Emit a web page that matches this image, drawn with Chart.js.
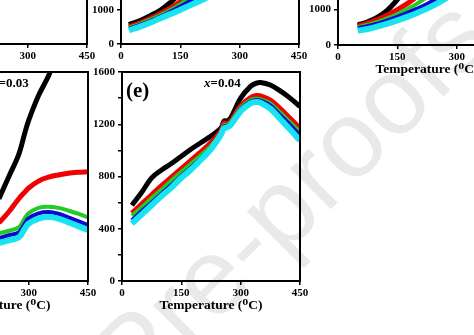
<!DOCTYPE html>
<html>
<head>
<meta charset="utf-8">
<script src="https://cdn.jsdelivr.net/npm/chart.js"></script>
<style>
  html, body { margin: 0; padding: 0; background: #fff; }
  body { width: 474px; height: 335px; position: relative; overflow: hidden; }
  canvas { position: absolute; }
  #wm { left: 0; top: 0; pointer-events: none; }
</style>
</head>
<body>
<canvas id="panel-a" width="240" height="234" style="left:-141px; top:-170px"></canvas>
<canvas id="panel-b" width="240" height="234" style="left:71px; top:-170px"></canvas>
<canvas id="panel-c" width="240" height="261" style="left:288px; top:-179px"></canvas>
<canvas id="panel-d" width="240" height="256" style="left:-140px; top:62px"></canvas>
<canvas id="panel-e" width="240" height="256" style="left:72px; top:62px"></canvas>
<canvas id="wm" width="474" height="335"></canvas>
<script>
// series order: black, red, green, blue, cyan
var seriesNames = ['S1', 'S2', 'S3', 'S4', 'S5'];
var seriesColors = ['#000000', '#f00000', '#22cc22', '#0a0ad0', '#19e3f0'];
var seriesWidths = [5, 5, 4, 4, 6];
var xTicks = [0, 150, 300, 450];

// (b)
var tempB = [20, 50, 75, 100, 125, 150, 175, 200, 225];
var bBlack = [570, 700, 840, 1000, 1220, 1480];
var bRed = [510, 630, 760, 900, 1060, 1240, 1440];
var bGreen = [480, 600, 720, 850, 1000, 1170, 1360];
var bBlue = [450, 570, 680, 810, 950, 1100, 1270, 1450];
var bCyan = [400, 520, 630, 760, 880, 1010, 1140, 1270, 1420];

// (c)
var tempC = [50, 75, 100, 125, 150, 175, 200, 225, 250, 275];
var cBlack = [560, 650, 780, 980, 1270, 1600];
var cRed = [530, 610, 710, 840, 990, 1160, 1360];
var cGreen = [500, 570, 650, 750, 870, 1010, 1160, 1340];
var cBlue = [470, 530, 600, 690, 790, 900, 1020, 1150, 1300];
var cCyan = [400, 450, 520, 600, 690, 790, 900, 1020, 1160, 1320];

// (d) x=0.03
var tempD = [225, 250, 275, 290, 300, 325, 350, 375, 400, 425, 450];
var dBlack = [630, 800, 970, 1130, 1230, 1420, 1570, 1760, 1950, 2130, 2300];
var dRed = [445, 530, 630, 680, 712, 765, 795, 812, 825, 832, 836];
var dGreen = [365, 385, 410, 480, 520, 560, 568, 560, 540, 515, 488];
var dBlue = [328, 350, 372, 440, 480, 518, 528, 515, 488, 458, 428];
var dCyan = [290, 312, 334, 400, 440, 478, 490, 478, 450, 420, 390];

// (e) x=0.04
var tempE = [25, 50, 75, 100, 125, 150, 175, 200, 225, 250, 258, 265, 275, 300, 325, 340, 350, 375, 400, 425, 450];
var eBlack = [580, 680, 790, 850, 900, 955, 1010, 1060, 1110, 1170, 1225, 1225, 1250, 1400, 1490, 1515, 1520, 1500, 1455, 1400, 1335];
var eRed = [520, 590, 660, 730, 795, 860, 925, 990, 1060, 1150, 1210, 1205, 1225, 1340, 1405, 1420, 1418, 1385, 1320, 1245, 1170];
var eGreen = [500, 565, 635, 700, 770, 835, 900, 965, 1035, 1135, 1195, 1195, 1215, 1325, 1385, 1395, 1392, 1360, 1290, 1215, 1140];
var eBlue = [465, 535, 600, 670, 735, 805, 870, 940, 1015, 1125, 1185, 1185, 1205, 1315, 1375, 1385, 1382, 1345, 1270, 1195, 1115];
var eCyan = [440, 510, 580, 650, 715, 790, 855, 930, 1010, 1120, 1170, 1175, 1195, 1300, 1360, 1370, 1365, 1320, 1240, 1160, 1075];

var serif = '"Liberation Serif", "Times New Roman", serif';
var tickFont = { family: serif, size: 11, weight: 'bold' };
var titleFont = { family: serif, size: 13.5, weight: 'bold' };

// box round the plot area
var framePlugin = {
    id: 'frame',
    afterDraw: function (chart) {
        var a = chart.chartArea;
        var ctx = chart.ctx;
        ctx.save();
        ctx.strokeStyle = '#000';
        ctx.lineWidth = 2;
        ctx.strokeRect(a.left, a.top, a.right - a.left, a.bottom - a.top);
        ctx.restore();
    }
};

// panel letter and composition text, placed from the plot area corner
var panelTextPlugin = {
    id: 'panelText',
    afterDraw: function (chart, args, opts) {
        var a = chart.chartArea;
        var ctx = chart.ctx;
        ctx.save();
        ctx.fillStyle = '#000';
        ctx.textBaseline = 'middle';
        (opts.items || []).forEach(function (item) {
            var x = a.left + item.dx;
            item.parts.forEach(function (p) {
                ctx.font = p.font;
                ctx.fillText(p.t, x, a.top + item.dy);
                x += ctx.measureText(p.t).width;
            });
        });
        ctx.restore();
    }
};

function compText(x) {
    return {
        dx: 82, dy: 12,
        parts: [
            { t: 'x', font: 'italic bold 13px ' + serif },
            { t: '=' + x, font: 'bold 13px ' + serif }
        ]
    };
}

function buildPanel(id, temps, series, o) {
    var datasets = series.map(function (values, i) {
        return {
            label: seriesNames[i],
            data: values.map(function (v, j) { return { x: temps[j], y: v }; }),
            borderColor: seriesColors[i],
            borderWidth: seriesWidths[i],
            pointRadius: 0,
            tension: 0.35,
            fill: false,
            clip: 0,
            order: 4 - i
        };
    });

    new Chart(document.getElementById(id), {
        type: 'line',
        data: { datasets: datasets },
        options: {
            responsive: false,
            animation: false,
            devicePixelRatio: 1,
            layout: { padding: { top: o.padTop, right: 12, left: 0, bottom: 0 } },
            plugins: {
                legend: { display: false },
                tooltip: { enabled: false },
                panelText: { items: o.texts || [] }
            },
            scales: {
                x: {
                    type: 'linear',
                    min: 0,
                    max: 450,
                    afterFit: function (s) { s.height = o.xHeight; },
                    afterBuildTicks: function (s) {
                        s.ticks = xTicks.map(function (v) { return { value: v }; });
                    },
                    border: { color: '#000', width: 2 },
                    grid: { drawOnChartArea: false, color: '#000', tickLength: 4, lineWidth: 1.5 },
                    ticks: { color: '#000', font: tickFont, padding: 2, autoSkip: false, maxRotation: 0 },
                    title: {
                        display: !!o.xTitle,
                        text: 'Temperature (\u1D3CC)',
                        color: '#000',
                        font: titleFont,
                        padding: { top: 4, bottom: 4 }
                    }
                },
                y: {
                    min: 0,
                    max: o.yMax,
                    afterFit: function (s) { s.width = 50; },
                    border: { color: '#000', width: 2 },
                    grid: { drawOnChartArea: false, color: '#000', tickLength: 4, lineWidth: 1.5 },
                    ticks: {
                        stepSize: o.yStep,
                        autoSkip: false,
                        color: '#000',
                        font: tickFont,
                        padding: 3,
                        callback: function (v) { return v % o.yLabelStep === 0 ? v : ''; }
                    }
                }
            }
        },
        plugins: [framePlugin, panelTextPlugin]
    });
}

buildPanel('panel-a', tempB, [], { padTop: 10, xHeight: 20, yMax: 6000, yStep: 1000, yLabelStep: 1000 });
buildPanel('panel-b', tempB, [bBlack, bRed, bGreen, bBlue, bCyan],
    { padTop: 10, xHeight: 20, yMax: 6000, yStep: 1000, yLabelStep: 1000 });
buildPanel('panel-c', tempC, [cBlack, cRed, cGreen, cBlue, cCyan],
    { padTop: 10, xHeight: 37, yMax: 6000, yStep: 1000, yLabelStep: 1000, xTitle: true });
buildPanel('panel-d', tempD, [dBlack, dRed, dGreen, dBlue, dCyan],
    { padTop: 10, xHeight: 37, yMax: 1600, yStep: 200, yLabelStep: 400, xTitle: true,
      texts: [{ dx: 4, dy: 20, parts: [{ t: '(d)', font: 'bold 21px ' + serif }] }, compText('0.03')] });
buildPanel('panel-e', tempE, [eBlack, eRed, eGreen, eBlue, eCyan],
    { padTop: 10, xHeight: 37, yMax: 1600, yStep: 200, yLabelStep: 400, xTitle: true,
      texts: [{ dx: 4, dy: 20, parts: [{ t: '(e)', font: 'bold 21px ' + serif }] }, compText('0.04')] });

// watermark
var wm = document.getElementById('wm').getContext('2d');
wm.save();
wm.translate(137, 403);
wm.rotate(-45 * Math.PI / 180);
wm.font = '109px "Liberation Sans", Arial, sans-serif';
wm.fillStyle = 'rgba(0, 0, 0, 0.085)';
wm.fillText('Pre-proofs', 0, 0);
wm.restore();
</script>
</body>
</html>
